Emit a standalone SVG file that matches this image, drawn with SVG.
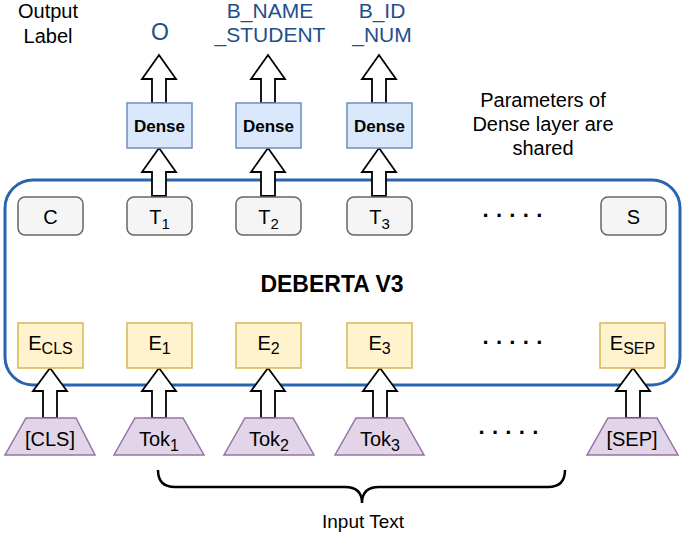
<svg xmlns="http://www.w3.org/2000/svg" width="685" height="534" viewBox="0 0 685 534">
<style>
text{font-family:"Liberation Sans",Arial,sans-serif;fill:#000}
.g{fill:#f5f5f5;stroke:#666;stroke-width:1.5}
.d{fill:#dae8fc;stroke:#6c8ebf;stroke-width:1.5}
.e{fill:#fff2cc;stroke:#d6b656;stroke-width:1.5}
.t{fill:#e1d5e7;stroke:#9673a6;stroke-width:1.5}
.a{fill:#fff;stroke:#000;stroke-width:1.8}
.b{fill:#1f4e8c}
.l{font-size:20px;text-anchor:middle}
</style>
<defs>
<path id="au" d="M0,0 L17,24 L7,24 L7,48 L-7,48 L-7,24 L-17,24 Z"/>
<path id="as" d="M0,0 L17,23 L7,23 L7,50 L-7,50 L-7,23 L-17,23 Z"/>
</defs>
<rect x="5" y="180" width="675" height="205" rx="28" fill="#fff" stroke="#2a64b0" stroke-width="3"/>
<g id="connectors">
<use href="#au" class="a" x="159" y="55"/>
<use href="#au" class="a" x="268" y="55"/>
<use href="#au" class="a" x="379" y="55"/>
<use href="#au" class="a" x="159" y="148"/>
<use href="#au" class="a" x="268" y="148"/>
<use href="#au" class="a" x="379" y="148"/>
<use href="#as" class="a" x="50" y="368"/>
<use href="#as" class="a" x="159" y="368"/>
<use href="#as" class="a" x="268" y="368"/>
<use href="#as" class="a" x="380" y="368"/>
<use href="#as" class="a" x="633" y="368"/>
</g>
<text x="48" y="18" font-size="20" text-anchor="middle">Output</text>
<text x="48" y="43" font-size="20" text-anchor="middle">Label</text>
<text class="b" x="160" y="40" font-size="23" text-anchor="middle">O</text>
<text class="b" x="270" y="18" font-size="21" text-anchor="middle">B_NAME</text>
<text class="b" x="270" y="42" font-size="21" text-anchor="middle">_STUDENT</text>
<text class="b" x="382" y="18" font-size="21" text-anchor="middle">B_ID</text>
<text class="b" x="382" y="42" font-size="21" text-anchor="middle">_NUM</text>
<text x="543" y="107" font-size="20" text-anchor="middle">Parameters of</text>
<text x="543" y="131" font-size="20" text-anchor="middle">Dense layer are</text>
<text x="543" y="155" font-size="20" text-anchor="middle">shared</text>
<g id="dense1"><rect class="d" x="127" y="103" width="65" height="45"/><text x="159.5" y="132" font-size="17" font-weight="bold" text-anchor="middle">Dense</text></g>
<g id="dense2"><rect class="d" x="236" y="103" width="65" height="45"/><text x="268.5" y="132" font-size="17" font-weight="bold" text-anchor="middle">Dense</text></g>
<g id="dense3"><rect class="d" x="347" y="103" width="65" height="45"/><text x="379.5" y="132" font-size="17" font-weight="bold" text-anchor="middle">Dense</text></g>
<g id="c"><rect class="g" x="18" y="197" width="65" height="38" rx="7"/><text class="l" x="50.5" y="224">C</text></g>
<g id="t1"><rect class="g" x="127" y="197" width="65" height="38" rx="7"/><text class="l" x="159.5" y="224">T<tspan font-size="15" dy="5">1</tspan></text></g>
<g id="t2"><rect class="g" x="236" y="197" width="65" height="38" rx="7"/><text class="l" x="268.5" y="224">T<tspan font-size="15" dy="5">2</tspan></text></g>
<g id="t3"><rect class="g" x="347" y="197" width="65" height="38" rx="7"/><text class="l" x="379.5" y="224">T<tspan font-size="15" dy="5">3</tspan></text></g>
<g id="s"><rect class="g" x="601" y="197" width="65" height="38" rx="7"/><text class="l" x="633.5" y="224">S</text></g>
<text x="513" y="223" font-size="22" font-weight="bold" text-anchor="middle">· · · · ·</text>
<text x="332" y="292" font-size="23" font-weight="bold" text-anchor="middle">DEBERTA V3</text>
<g id="ecls"><rect class="e" x="18" y="323" width="65" height="45"/><text class="l" x="50.5" y="350">E<tspan font-size="16" dy="4">CLS</tspan></text></g>
<g id="e1"><rect class="e" x="127" y="323" width="65" height="45"/><text class="l" x="159.5" y="350">E<tspan font-size="16" dy="4">1</tspan></text></g>
<g id="e2"><rect class="e" x="236" y="323" width="65" height="45"/><text class="l" x="268.5" y="350">E<tspan font-size="16" dy="4">2</tspan></text></g>
<g id="e3"><rect class="e" x="347" y="323" width="65" height="45"/><text class="l" x="379.5" y="350">E<tspan font-size="16" dy="4">3</tspan></text></g>
<g id="esep"><rect class="e" x="600" y="323" width="65" height="45"/><text class="l" x="632.5" y="350">E<tspan font-size="16" dy="4">SEP</tspan></text></g>
<text x="513" y="350" font-size="22" font-weight="bold" text-anchor="middle">· · · · ·</text>
<g id="cls"><polygon class="t" points="5,455 95,455 76,418 26,418"/><text class="l" x="50" y="446">[CLS]</text></g>
<g id="tok1"><polygon class="t" points="114,455 204,455 183,418 135,418"/><text class="l" x="159" y="446">Tok<tspan font-size="16" dy="5">1</tspan></text></g>
<g id="tok2"><polygon class="t" points="224,455 314,455 293,418 245,418"/><text class="l" x="269" y="446">Tok<tspan font-size="16" dy="5">2</tspan></text></g>
<g id="tok3"><polygon class="t" points="335,455 424,455 403,418 356,418"/><text class="l" x="380" y="446">Tok<tspan font-size="16" dy="5">3</tspan></text></g>
<g id="sep"><polygon class="t" points="587,455 678,455 657,418 608,418"/><text class="l" x="632" y="446">[SEP]</text></g>
<text x="509" y="440" font-size="22" font-weight="bold" text-anchor="middle">· · · · ·</text>
<path d="M158,470 Q158,487 175,487 L345,487 Q362,487 362,503 Q362,487 379,487 L548,487 Q565,487 565,470" fill="none" stroke="#000" stroke-width="2.5"/>
<text x="363" y="528" font-size="19" text-anchor="middle">Input Text</text>
</svg>
